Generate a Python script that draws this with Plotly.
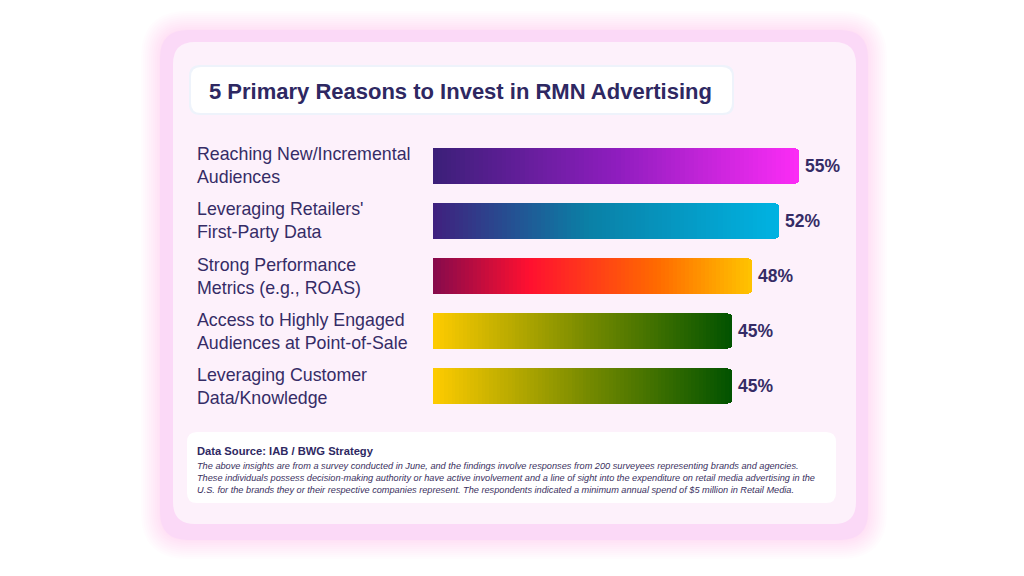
import plotly.graph_objects as go

# ---------------- data ----------------
categories = [
    "Reaching New/Incremental<br>Audiences",
    "Leveraging Retailers'<br>First-Party Data",
    "Strong Performance<br>Metrics (e.g., ROAS)",
    "Access to Highly Engaged<br>Audiences at Point-of-Sale",
    "Leveraging Customer<br>Data/Knowledge",
]
values = [55, 52, 48, 45, 45]
value_labels = ["55%", "52%", "48%", "45%", "45%"]
gradients = [
    [(0.0, "#3b1f78"), (0.5, "#8e1dbe"), (1.0, "#fc2cf6")],
    [(0.0, "#40207e"), (0.45, "#0a80a6"), (1.0, "#00b3e2")],
    [(0.0, "#850a4c"), (0.3, "#ff1030"), (0.7, "#ff6a00"), (1.0, "#ffc400")],
    [(0.0, "#ffcc00"), (0.5, "#7a8c00"), (1.0, "#005200")],
    [(0.0, "#ffcc00"), (0.5, "#7a8c00"), (1.0, "#005200")],
]
title_text = "5 Primary Reasons to Invest in RMN Advertising"
source_title = "Data Source: IAB / BWG Strategy"
source_body = (
    "The above insights are from a survey conducted in June, and the findings involve responses from 200 surveyees representing brands and agencies.<br>"
    "These individuals possess decision-making authority or have active involvement and a line of sight into the expenditure on retail media advertising in the<br>"
    "U.S. for the brands they or their respective companies represent. The respondents indicated a minimum annual spend of $5 million in Retail Media."
)

W, H = 1024, 576
TEXT = "#352c66"
N_SEG = 80


def hex2rgb(h):
    h = h.lstrip("#")
    return tuple(int(h[i:i + 2], 16) for i in (0, 2, 4))


def grad_color(stops, t):
    for (t0, c0), (t1, c1) in zip(stops[:-1], stops[1:]):
        if t0 <= t <= t1:
            f = (t - t0) / (t1 - t0) if t1 > t0 else 0
            a, b = hex2rgb(c0), hex2rgb(c1)
            return "rgb(%d,%d,%d)" % tuple(round(a[i] + (b[i] - a[i]) * f) for i in range(3))
    return stops[-1][1]


def px(x):
    return x / W


def py(y):
    return 1 - y / H


def rrect(x0, y0, x1, y1, r):
    rx, ry = r / W, r / H
    X0, X1, Y0, Y1 = px(x0), px(x1), py(y0), py(y1)
    return (f"M {X0+rx},{Y0} L {X1-rx},{Y0} Q {X1},{Y0} {X1},{Y0-ry} "
            f"L {X1},{Y1+ry} Q {X1},{Y1} {X1-rx},{Y1} L {X0+rx},{Y1} "
            f"Q {X0},{Y1} {X0},{Y1+ry} L {X0},{Y0-ry} Q {X0},{Y0} {X0+rx},{Y0} Z")


fig = go.Figure()

# gradient bars: each bar split into N equal segments of its own value
for k in range(N_SEG):
    t = (k + 0.5) / N_SEG
    fig.add_trace(go.Bar(
        y=categories,
        x=[v / N_SEG for v in values],
        orientation="h",
        marker=dict(color=[grad_color(g, t) for g in gradients], line=dict(width=0)),
        hoverinfo="skip",
        showlegend=False,
    ))

shapes = []
# glow
for i in range(10):
    d = 1 + i * 2
    shapes.append(dict(type="path", xref="paper", yref="paper", layer="below",
                       path=rrect(160 - d, 30 - d, 868 + d, 540 + d, 28 + d),
                       fillcolor="rgba(250,160,240,0.035)", line=dict(width=0)))
shapes.append(dict(type="path", xref="paper", yref="paper", layer="below",
                   path=rrect(160, 30, 868, 540, 28),
                   fillcolor="#fbd9f7", line=dict(width=0)))
shapes.append(dict(type="path", xref="paper", yref="paper", layer="below",
                   path=rrect(173, 42, 856, 524, 22),
                   fillcolor="#fdf1fb", line=dict(width=0)))
# title box
shapes.append(dict(type="path", xref="paper", yref="paper", layer="below",
                   path=rrect(189, 65, 734, 115, 11),
                   fillcolor="#eef3fb", line=dict(width=0)))
shapes.append(dict(type="path", xref="paper", yref="paper", layer="below",
                   path=rrect(191, 67, 732, 113, 10),
                   fillcolor="#ffffff", line=dict(width=0)))
# footer box
shapes.append(dict(type="path", xref="paper", yref="paper", layer="below",
                   path=rrect(187, 432, 836, 503, 10),
                   fillcolor="#ffffff", line=dict(width=0)))

annotations = [
    dict(text="<b>" + title_text + "</b>", xref="paper", yref="paper",
         x=px(207), y=py(91), xanchor="left", yanchor="middle", showarrow=False,
         font=dict(family="Liberation Sans", size=22, color="#2e2862")),
    dict(text="<b>" + source_title + "</b>", xref="paper", yref="paper",
         x=px(195), y=py(451), xanchor="left", yanchor="middle", showarrow=False,
         font=dict(family="Liberation Sans", size=11.2, color="#2e2862")),
    dict(text="<i>" + source_body + "</i>", xref="paper", yref="paper",
         x=px(195), y=py(478), xanchor="left", yanchor="middle", align="left",
         showarrow=False,
         font=dict(family="Liberation Sans", size=9.2, color="#3a3060")),
]
for c, v, lab in zip(categories, values, value_labels):
    annotations.append(dict(text=c, xref="paper", yref="y", x=px(195), y=c,
                            xanchor="left", yanchor="middle", align="left", showarrow=False,
                            font=dict(family="Liberation Sans", size=17.8, color=TEXT)))
    annotations.append(dict(text="<b>" + lab + "</b>", xref="x", yref="y", x=v, y=c,
                            xanchor="left", yanchor="middle", xshift=4, showarrow=False,
                            font=dict(family="Liberation Sans", size=17.5, color=TEXT)))

x0_px, x_end_px = 433, 860
scale = (799 - 433) / values[0]
fig.update_layout(
    width=W, height=H,
    margin=dict(l=0, r=0, t=0, b=0),
    paper_bgcolor="#ffffff",
    plot_bgcolor="rgba(0,0,0,0)",
    barmode="stack",
    bargap=0.36,
    barcornerradius=4,
    shapes=shapes,
    annotations=annotations,
    xaxis=dict(domain=[px(x0_px), px(x_end_px)], range=[0, (x_end_px - x0_px) / scale],
               visible=False, fixedrange=True),
    yaxis=dict(domain=[py(413.5), py(138.5)], range=[4.5, -0.5], type="category",
               visible=False, fixedrange=True),
)

fig.write_html("out.html")
